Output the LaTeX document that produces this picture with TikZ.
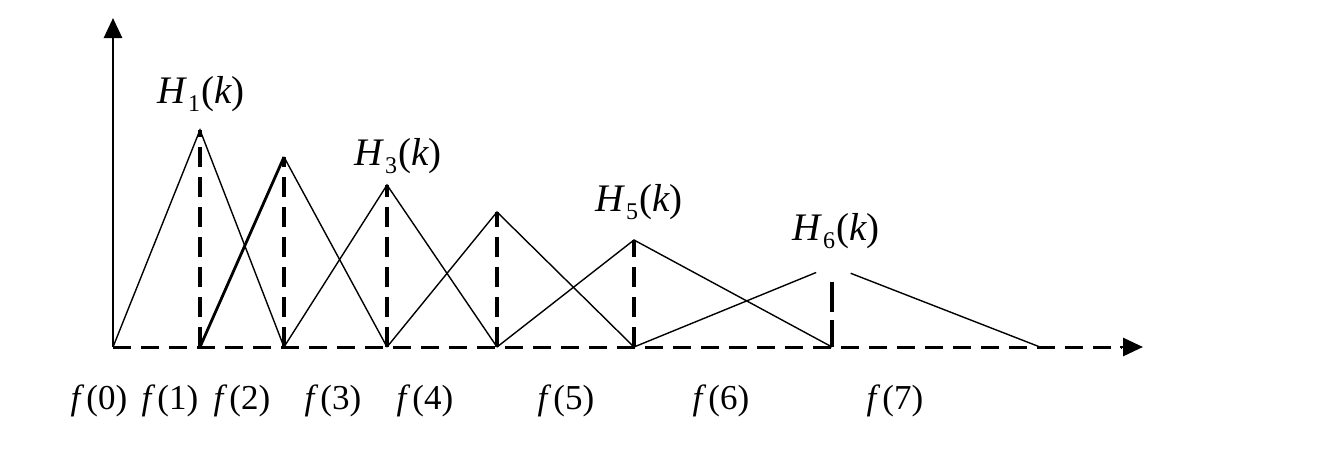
\documentclass[tikz,border=0pt]{standalone}
\usepackage{fontspec}
\setmainfont{Liberation Serif}
\usetikzlibrary{arrows.meta,calc}
\newcommand{\Hk}[1]{\textit{H}\kern1pt\raisebox{-0.22em}{\fontsize{24}{24}\selectfont #1}\kern1pt(\textit{k})}
\newcommand{\fk}[1]{\textit{f}\kern2pt(#1)}
\begin{document}
\begin{tikzpicture}[x=1pt,y=-1pt,
  tri/.style={line width=1.4pt},
  bold/.style={line width=2.8pt},
  axis/.style={line width=2.8pt},
  dsh/.style={line width=3pt,dash pattern=on 18pt off 10pt},
  vd/.style={line width=3.2pt,dash pattern=on 20pt off 10pt},
  hlab/.style={font=\fontsize{39}{39}\selectfont, inner sep=0pt},
  flab/.style={font=\fontsize{35}{35}\selectfont, inner sep=0pt}]
\useasboundingbox (0,0) rectangle (1330,450);
% axis points
\coordinate (a0) at (113,347);
\coordinate (a1) at (200,347);
\coordinate (a2) at (284,347);
\coordinate (a3) at (387,347);
\coordinate (a4) at (497,347);
\coordinate (a5) at (634,347);
\coordinate (a6) at (832,347);
\coordinate (a7) at (1040,347);
\coordinate (xend) at (1143,347);
\coordinate (yend) at (113,18);
% peaks
\coordinate (p1) at (200,130);
\coordinate (p2) at (284,157);
\coordinate (p3) at (387,185);
\coordinate (p4) at (497,212);
\coordinate (p5) at (634,240);
\coordinate (p6) at (832,266);
\coordinate (d6) at (832,282);
% axes
\draw[axis,-{Triangle[length=20pt,width=18pt]}] (a0) -- (yend);
\draw[dsh] (a0) -- (1122,347);
\draw[axis,-{Triangle[length=20pt,width=18pt]}] (1120,347) -- (xend);
% triangles
\draw[tri] (a0) -- (p1) -- (a2);
\draw[bold] (a1) -- (p2);
\draw[tri] (p2) -- (a3);
\draw[tri] (a2) -- (p3) -- (a4);
\draw[tri] (a3) -- (p4) -- (a5);
\draw[tri] (a4) -- (p5) -- (a6);
\draw[tri] (a5) -- ($(a5)!0.92!(p6)$);
\draw[tri] ($(a7)!0.91!(p6)$) -- (a7);
% dashed verticals
\draw[vd] (a1) -- (p1);
\draw[vd] (a2) -- (p2);
\draw[vd] (a3) -- (p3);
\draw[vd] (a4) -- (p4);
\draw[vd] (a5) -- (p5);
\draw[line width=3.2pt,dash pattern=on 30pt off 8pt on 40pt] (d6) -- (a6);
% labels
\node[hlab] (h1) at (201,94) {\Hk{1}};
\node[hlab] (h3) at (398,156) {\Hk{3}};
\node[hlab] (h5) at (639,202) {\Hk{5}};
\node[hlab] (h6) at (836,231) {\Hk{6}};
\node[flab] (f0) at (99,401) {\fk{0}};
\node[flab] (f1) at (170,401) {\fk{1}};
\node[flab] (f2) at (242,401) {\fk{2}};
\node[flab] (f3) at (333,401) {\fk{3}};
\node[flab] (f4) at (425,401) {\fk{4}};
\node[flab] (f5) at (566,401) {\fk{5}};
\node[flab] (f6) at (721,401) {\fk{6}};
\node[flab] (f7) at (895,401) {\fk{7}};
\end{tikzpicture}
\end{document}
